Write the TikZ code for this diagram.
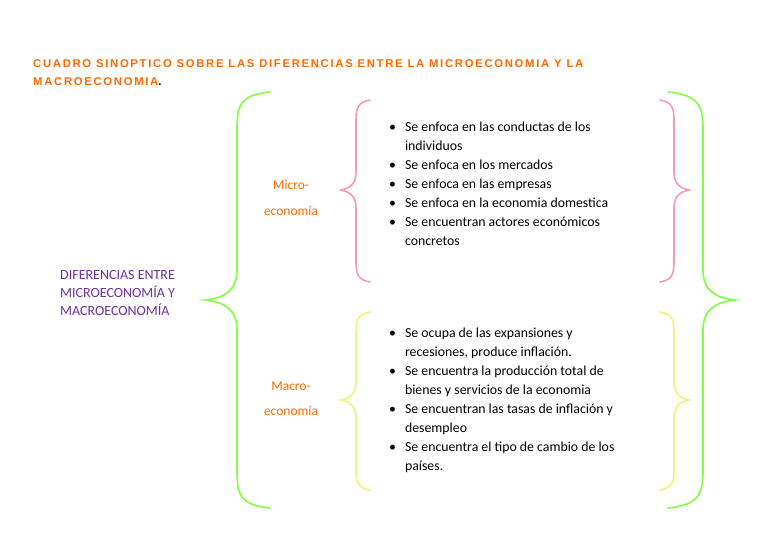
\documentclass[tikz,border=0pt]{standalone}
\usepackage{fontspec}
\setmainfont{Carlito}
\newfontfamily\titlefont[LetterSpace=15]{Liberation Sans}
\definecolor{ttl}{HTML}{FF6A00}
\definecolor{purp}{HTML}{7030A0}
\definecolor{grn}{HTML}{80FF40}
\definecolor{pnk}{HTML}{F49AC1}
\definecolor{ylw}{HTML}{F2F27A}
\tikzset{
 lb/.style={line width=1.6pt,line cap=round},
 txt/.style={font=\fontsize{13.8}{19}\selectfont,anchor=north west,align=left,inner sep=0pt},
 lab/.style={font=\fontsize{13.5}{16}\selectfont,text=ttl,inner sep=0pt},
}
\begin{document}
\begin{tikzpicture}[x=1pt,y=-1pt]
\useasboundingbox[fill=white] (0,0) rectangle (768,543);
\node[anchor=west,inner sep=0pt,text=ttl,font=\titlefont\bfseries\fontsize{11.3}{14}\selectfont] (t1) at (33,64) {CUADRO SINOPTICO SOBRE LAS DIFERENCIAS ENTRE LA MICROECONOMIA Y LA};
\node[anchor=west,inner sep=0pt,text=ttl,font=\titlefont\bfseries\fontsize{11.3}{14}\selectfont] (t2) at (33,82) {MACROECONOMIA\textcolor{black}{.}};
% left big brace
\draw[grn,lb] (270,92) .. controls (240,95) and (237,105) .. (237,130) -- (237,270) .. controls (237,290) and (225,298) .. (205,300) .. controls (225,302) and (237,310) .. (237,330) -- (237,470) .. controls (237,495) and (240,505) .. (270,508);
% right big brace
\draw[grn,lb] (668,92) .. controls (698,95) and (703,105) .. (703,130) -- (703,270) .. controls (703,290) and (715,298) .. (735,300) .. controls (715,302) and (703,310) .. (703,330) -- (703,470) .. controls (703,495) and (698,505) .. (668,508);
% pink
\draw[pnk,lb] (370,100) .. controls (358,102) and (356,108) .. (356,120) -- (356,172) .. controls (356,184) and (350,188) .. (341,190) .. controls (350,192) and (356,196) .. (356,208) -- (356,262) .. controls (356,274) and (358,280) .. (370,282);
\draw[pnk,lb] (660,100) .. controls (672,102) and (674,108) .. (674,120) -- (674,172) .. controls (674,184) and (680,188) .. (689,190) .. controls (680,192) and (674,196) .. (674,208) -- (674,262) .. controls (674,274) and (672,280) .. (660,282);
% yellow
\draw[ylw,lb] (370,312) .. controls (358,314) and (356,320) .. (356,332) -- (356,382) .. controls (356,394) and (350,398) .. (341,400) .. controls (350,402) and (356,406) .. (356,418) -- (356,470) .. controls (356,482) and (358,488) .. (370,490);
\draw[ylw,lb] (660,312) .. controls (672,314) and (674,320) .. (674,332) -- (674,382) .. controls (674,394) and (680,398) .. (689,400) .. controls (680,402) and (674,406) .. (674,418) -- (674,470) .. controls (674,482) and (672,488) .. (660,490);
\node[anchor=north west,inner sep=0pt,text=purp,align=left,font=\fontsize{14}{18}\selectfont] (d) at (60,270) {DIFERENCIAS ENTRE\\MICROECONOMÍA Y\\MACROECONOMÍA};
\node[lab] (m1) at (291,185) {Micro-};
\node[lab] (m2) at (291,211) {economía};
\node[lab] (n1) at (291,386) {Macro-};
\node[lab] (n2) at (291,411) {economía};
\node[txt] (l1) at (389,118) {\begin{tabular}{@{}l@{\hspace{9pt}}l@{}}
\textbullet & Se enfoca en las conductas de los\\
 & individuos\\
\textbullet & Se enfoca en los mercados\\
\textbullet & Se enfoca en las empresas\\
\textbullet & Se enfoca en la economia domestica\\
\textbullet & Se encuentran actores económicos\\
 & concretos\end{tabular}};
\node[txt] (l2) at (389,324) {\begin{tabular}{@{}l@{\hspace{9pt}}l@{}}
\textbullet & Se ocupa de las expansiones y\\
 & recesiones, produce inflación.\\
\textbullet & Se encuentra la producción total de\\
 & bienes y servicios de la economia\\
\textbullet & Se encuentran las tasas de inflación y\\
 & desempleo\\
\textbullet & Se encuentra el tipo de cambio de los\\
 & países.\end{tabular}};
\end{tikzpicture}
\end{document}
